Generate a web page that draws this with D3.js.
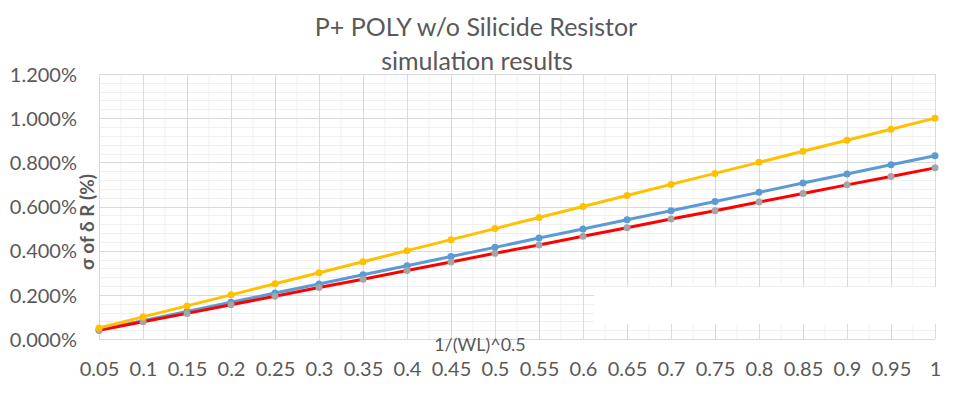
<!DOCTYPE html>
<html><head><meta charset="utf-8">
<script src="https://cdn.jsdelivr.net/npm/d3@7"></script>
<style>
body{margin:0;background:#fff;}
svg text{font-family:Lato,"Open Sans",sans-serif;fill:#595959;}
</style></head>
<body><svg id="c" width="959" height="396"></svg>
<script>
const categories = [0.05,0.1,0.15,0.2,0.25,0.3,0.35,0.4,0.45,0.5,0.55,0.6,0.65,0.7,0.75,0.8,0.85,0.9,0.95,1];
const categoryLabels = ["0.05","0.1","0.15","0.2","0.25","0.3","0.35","0.4","0.45","0.5","0.55","0.6","0.65","0.7","0.75","0.8","0.85","0.9","0.95","1"];
const blueValues = [0.042,0.083,0.125,0.166,0.208,0.249,0.291,0.332,0.374,0.415,0.457,0.498,0.540,0.581,0.623,0.664,0.706,0.747,0.789,0.830];
const redValues = [0.039,0.078,0.116,0.155,0.194,0.233,0.271,0.310,0.349,0.388,0.426,0.465,0.504,0.543,0.581,0.620,0.659,0.698,0.736,0.775];
const yellowValues = [0.05,0.10,0.15,0.20,0.25,0.30,0.35,0.40,0.45,0.50,0.55,0.60,0.65,0.70,0.75,0.80,0.85,0.90,0.95,1.00];
const yTicks = [0,0.2,0.4,0.6,0.8,1.0,1.2];
const yMinorTicks = d3.range(0,1.2001,0.04);
const titleLines = ["P+ POLY w/o Silicide Resistor","simulation results"];
const xTitle = "1/(WL)^0.5";
const yTitle = "σ of δ R (%)";

const svg = d3.select("#c");
const pLeft=99, pRight=935, pTop=74, pBottom=339;
const x = d3.scalePoint().domain(categories).range([pLeft,pRight]);
const y = d3.scaleLinear().domain([0,1.2]).range([pBottom,pTop]);
const step = x.step();

const g = svg.append("g");
g.selectAll(".vmin").data(categories.slice(0,-1)).enter().append("line")
  .attr("x1",d=>x(d)+step/2).attr("x2",d=>x(d)+step/2)
  .attr("y1",pTop).attr("y2",pBottom).attr("stroke","#F0F0F0").attr("stroke-width",1);
g.selectAll(".hmin").data(yMinorTicks).enter().append("line")
  .attr("x1",pLeft).attr("x2",pRight).attr("y1",d=>Math.round(y(d))+0.5).attr("y2",d=>Math.round(y(d))+0.5)
  .attr("stroke","#F0F0F0").attr("stroke-width",1);
g.selectAll(".vmaj").data(categories).enter().append("line")
  .attr("x1",d=>Math.round(x(d))+0.5).attr("x2",d=>Math.round(x(d))+0.5)
  .attr("y1",pTop).attr("y2",pBottom).attr("stroke","#D9D9D9").attr("stroke-width",1);
g.selectAll(".hmaj").data(yTicks).enter().append("line")
  .attr("x1",pLeft).attr("x2",pRight).attr("y1",d=>Math.round(y(d))+0.5).attr("y2",d=>Math.round(y(d))+0.5)
  .attr("stroke","#D9D9D9").attr("stroke-width",1);

const yAxis = d3.axisLeft(y).tickValues(yTicks).tickFormat(d=>d3.format(".3f")(d)+"%").tickSize(0).tickPadding(22);
const ya = svg.append("g").attr("transform",`translate(${pLeft},0)`).call(yAxis);
ya.select(".domain").remove();
ya.attr("font-family",null).attr("font-size",null);
ya.selectAll("text").style("font-size","20px").attr("fill","#595959").attr("dy","0.36em");

const xAxis = d3.axisBottom(x).tickFormat((d,i)=>categoryLabels[i]).tickSize(0);
const xa = svg.append("g").attr("transform",`translate(0,${pBottom})`).call(xAxis);
xa.select(".domain").remove();
xa.attr("font-family",null).attr("font-size",null);
xa.selectAll("text").style("font-size","20px").attr("fill","#595959").attr("y",37).attr("dy","0");

const series = [
  {values:blueValues, line:"#5B9BD5", marker:"#5B9BD5"},
  {values:redValues, line:"#FF0000", marker:"#A5A5A5"},
  {values:yellowValues, line:"#FFC000", marker:"#FFC000"}
];
const lineGen = d3.line().x((d,i)=>x(categories[i])).y(d=>y(d));
series.forEach(s=>{
  svg.append("path").datum(s.values).attr("d",lineGen).attr("fill","none")
    .attr("stroke",s.line).attr("stroke-width",3).attr("stroke-linejoin","round");
  svg.selectAll(null).data(s.values).enter().append("circle")
    .attr("cx",(d,i)=>x(categories[i])).attr("cy",d=>y(d)).attr("r",3.5).attr("fill",s.marker);
});

svg.append("rect").attr("x",594).attr("y",287).attr("width",350).attr("height",37).attr("fill","#fff");

svg.append("text").attr("x",476).attr("y",36).attr("text-anchor","middle").style("font-size","25px").text(titleLines[0]);
svg.append("text").attr("x",477).attr("y",70).attr("text-anchor","middle").style("font-size","25px").text(titleLines[1]);
svg.append("text").attr("x",480).attr("y",351).attr("text-anchor","middle").style("font-size","18px").text(xTitle);
svg.append("text").attr("transform","translate(94,222) rotate(-90)").attr("text-anchor","middle")
  .style("font-size","19px").style("font-weight","bold").text(yTitle);
</script></body></html>
